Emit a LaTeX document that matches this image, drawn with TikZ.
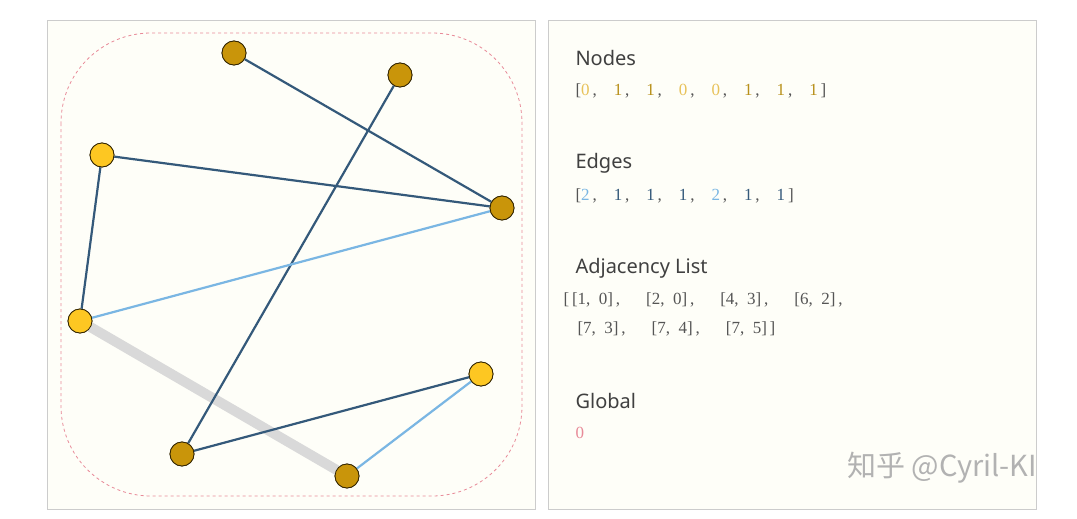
\documentclass[tikz,border=0pt]{standalone}
\usepackage{fontspec}
\setmainfont{Liberation Serif}
\newfontfamily\hd{Noto Sans}
\newfontfamily\cjk{Noto Sans CJK SC}
\definecolor{bgc}{HTML}{FEFEF8}
\definecolor{edk}{HTML}{34597A}
\definecolor{elt}{HTML}{7AB6E3}
\definecolor{ndk}{HTML}{C9950A}
\definecolor{nyl}{HTML}{FDC722}
\definecolor{txg}{HTML}{555555}
\definecolor{zero}{HTML}{E8C25A}
\definecolor{one}{HTML}{B8901A}
\definecolor{pinkc}{HTML}{E88A98}
\newcommand\sep{\,,\hspace{17pt}}
\newcommand\asep{\,,\hspace{26pt}}
\tikzset{
 panel/.style={draw=black!20,fill=bgc,line width=0.8pt},
 vd/.style={circle,draw=black!75!ndk,fill=ndk,minimum size=24pt,inner sep=0pt,line width=0.8pt},
 vy/.style={vd,fill=nyl},
 ed/.style={edk,line width=2.2pt},
 el/.style={elt,line width=2.2pt},
 head/.style={anchor=west,font=\hd\fontsize{20}{24}\selectfont,text=black!75},
 lst/.style={anchor=west,font=\fontsize{17}{20}\selectfont,text=txg}
}
\begin{document}
\begin{tikzpicture}[x=1pt,y=-1pt]
\useasboundingbox (0,0) rectangle (1077,519);
\fill[white] (0,0) rectangle (1077,519);
\draw[panel] (47,20) rectangle (535,509);
\draw[panel] (548,20) rectangle (1036,509);
\draw[pinkc,dashed,line width=0.8pt,rounded corners=90pt] (61,33) rectangle (522,496);
\node[vd] (A) at (234,53) {};
\node[vd] (B) at (400,75) {};
\node[vy] (C) at (102,155) {};
\node[vd] (D) at (502,208) {};
\node[vy] (E) at (80,321) {};
\node[vy] (F) at (481,374) {};
\node[vd] (G) at (182,454) {};
\node[vd] (H) at (347,476) {};
\draw[black!15,line width=10pt] (E.center) -- (H.center);
\draw[ed] (A) -- (D);
\draw[ed] (B) -- (G);
\draw[ed] (C) -- (D);
\draw[ed] (C) -- (E);
\draw[el] (E) -- (D);
\draw[ed] (G) -- (F);
\draw[el] (H) -- (F);
\foreach \n/\s in {A/vd,B/vd,C/vy,D/vd,E/vy,F/vy,G/vd,H/vd} \node[\s] at (\n) {};
\node[head] (nh) at (572,58) {Nodes};
\node[lst] (nl) at (572,91) {[{\color{zero}0}\sep{\color{one}1}\sep{\color{one}1}\sep{\color{zero}0}\sep{\color{zero}0}\sep{\color{one}1}\sep{\color{one}1}\sep{\color{one}1}\,]};
\node[head] (eh) at (572,163) {Edges};
\node[lst] (elist) at (572,196) {[{\color{elt}2}\sep{\color{edk}1}\sep{\color{edk}1}\sep{\color{edk}1}\sep{\color{elt}2}\sep{\color{edk}1}\sep{\color{edk}1}\,]};
\node[head] (ah) at (572,268) {Adjacency List};
\node[lst] (a1) at (560,300) {[\,[1,\enspace0]\asep[2,\enspace0]\asep[4,\enspace3]\asep[6,\enspace2]\,,};
\node[lst] (a2) at (574,329) {[7,\enspace3]\asep[7,\enspace4]\asep[7,\enspace5]\,]};
\node[head] (gh) at (572,401) {Global};
\node[lst,text=pinkc] (gv) at (572,433) {0};
\node[anchor=center,font=\cjk\fontsize{29}{34}\selectfont,text=black!30] (wm) at (942,468) {知乎 @Cyril-KI};
\end{tikzpicture}
\end{document}
